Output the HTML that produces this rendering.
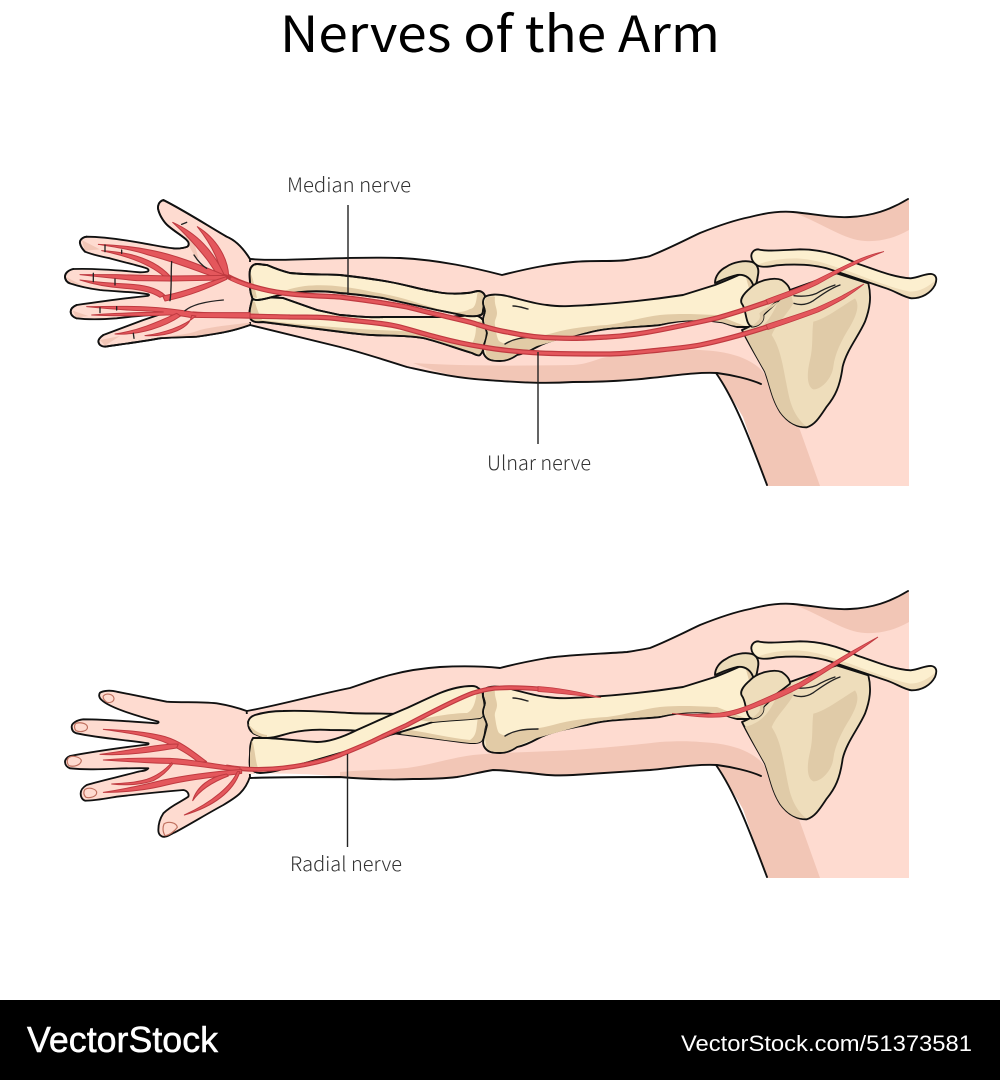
<!DOCTYPE html>
<html><head><meta charset="utf-8"><title>Nerves of the Arm</title>
<style>
html,body{margin:0;padding:0;background:#fff}
svg{display:block}
.o{stroke:#111;stroke-width:5.5;stroke-linejoin:round;stroke-linecap:round}
.p{stroke:#111;stroke-width:1.9;stroke-linejoin:round;stroke-linecap:round}
.l{fill:none;stroke:#222;stroke-width:1.4;stroke-linecap:round}
.n{fill:#e4575c;stroke:#bf3a40;stroke-width:3;stroke-linejoin:round}
.lab{font-family:"Noto Sans CJK JP","Liberation Sans",sans-serif;font-weight:300;font-size:20px;fill:#333}
</style></head><body>
<svg xmlns="http://www.w3.org/2000/svg" xmlns:xlink="http://www.w3.org/1999/xlink" width="1000" height="1080" viewBox="0 0 1000 1080">
<defs>
<g id="hum">
<path fill="#fcefcf" class="p" d="M485 297C489 294 498 294 507 296C520 299 535 304 547 305C560 307 573 306 590 305C620 303 650 300 683 295L715 285C725 281 735 277 745 272L757 283L763 315L753 327L737 327C728 325 724 322 720 322C700 319 680 320 660 325C630 328 607 327 587 333C565 337 550 340 537 347C528 352 522 354 517 355C510 360 505 361 500 361C492 361 488 360 485 356C482 352 483 348 484 345C486 340 487 337 487 333C486 328 483 325 483 320C483 316 485 314 485 311C485 308 483 306 483 303C483 300 484 298 485 297Z"/>
<path fill="#e2cba6" d="M486 298C490 296 494 296 495 297C494 304 497 308 497 313C497 318 494 320 495 325C496 332 497 338 499 341C502 343 505 344 507 343C511 340 516 339 522 338C536 337 545 335 553 333C570 328 590 326 607 325C625 323 642 317 660 315C672 314 680 314 690 314L717 315L737 323L745 326L737 326C728 325 724 322 720 322C700 319 680 320 660 324C630 327 607 326 587 332L537 346L517 354C510 359 505 360 500 360C492 360 488 359 486 355L485 345L488 333L484 320L486 311L484 303Z"/>
<path class="l" d="M513 306C518 306 524 308 528 309M505 344C513 339 522 337 538 337"/>
<path fill="#e2cba6" d="M745 274L754 284L758 300L750 292Z"/>
<path fill="#ecdcb9" class="p" d="M715 283C715 276 720 270 726 267C733 262 745 260 752 262C758 264 759 270 758 275C757 280 757 284 754 288C752 278 745 274 737 275C728 277 722 280 715 283Z"/>
</g>
<g id="sh" transform="translate(650 190) scale(.33333)">
<path fill="#eeddbb" class="o" d="M276 420C290 450 320 500 345 545C360 585 365 625 390 665C415 700 445 713 470 712C495 705 510 680 530 650C555 620 570 590 578 530C590 480 625 440 645 395C660 355 665 320 655 280L560 250L420 300L340 375C320 400 300 410 276 420Z"/>
<path fill="#e0cba8" d="M285 435C320 425 350 410 380 345L420 300L430 340C410 375 380 400 365 435C395 480 400 540 415 610C425 660 445 690 468 708C445 712 415 700 390 665C365 625 360 585 345 545C320 500 300 465 285 435ZM490 395C530 385 580 345 615 325C630 345 620 375 600 410C575 450 555 490 550 530C545 570 510 600 490 598C470 590 470 550 480 510C490 470 485 430 490 395Z"/>
<path fill="#eeddbb" class="o" d="M276 342C268 330 280 312 300 295C320 272 370 260 395 270C410 280 420 292 420 305C390 330 360 345 340 375C343 395 325 410 305 410C285 402 290 360 276 342Z"/>
<path fill="#e0cba8" d="M340 375C345 395 325 410 305 410C320 395 335 390 328 370C340 360 360 345 385 335C375 350 350 360 340 375Z"/>
<path fill="none" stroke="#222" stroke-width="4" stroke-linecap="round" d="M432 317C455 320 480 318 500 310C520 298 540 290 555 285M432 340C450 346 470 345 490 332C510 318 540 295 570 285"/>
<path fill="#fcefcf" d="M304 200C303 188 312 178 325 178C350 185 400 180 450 178C510 178 570 195 620 220C680 240 730 262 782 265C810 262 825 250 845 252C860 255 862 268 855 285C842 310 815 325 785 325C760 322 735 302 700 292C650 275 600 258 540 238C490 222 430 222 380 226C350 232 330 232 320 225C310 218 305 210 304 200Z"/>
<path fill="#efdcb9" d="M322 225C350 212 390 205 440 205C500 208 540 225 600 245C660 268 720 292 780 305C810 305 835 290 855 272L858 275C842 310 815 325 785 323C760 322 735 302 700 292C650 275 600 258 540 238C490 222 430 222 380 226C350 232 335 232 322 225Z"/>
<path fill="none" class="o" d="M304 200C303 188 312 178 325 178C350 185 400 180 450 178C510 178 570 195 620 220C680 240 730 262 782 265C810 262 825 250 845 252C860 255 862 268 855 285C842 310 815 325 785 325C760 322 735 302 700 292C650 275 600 258 540 238C490 222 430 222 380 226C350 232 330 232 320 225C310 218 305 210 304 200Z"/>
</g>
</defs>
<rect width="1000" height="1080" fill="#fff"/>

<text x="500" y="52" text-anchor="middle" textLength="440" lengthAdjust="spacingAndGlyphs" font-family="'Noto Sans CJK JP','Liberation Sans',sans-serif" font-size="50" fill="#000">Nerves of the Arm</text>

<!-- TOP ARM -->
<g>
<path fill="#fedbd0" d="M240 262L250 259C290 262 340 256 400 258C440 260 475 268 502 275C530 268 550 264 573 262C595 260 612 262 627 260C640 258 648 257 650 256C670 248 685 240 700 233C720 225 735 220 750 217C765 213 780 211 793 212C815 214 832 218 850 217C872 216 890 210 909 199V486H767L743 417L717 373C695 372 672 376 650 378C625 381 600 382 573 382C540 384 515 382 487 380C455 378 430 372 407 367C385 360 360 352 340 347L250 325L240 328Z"/>
<path fill="#f2c6b6" d="M793 212C815 214 832 218 850 217C872 216 890 210 909 199V230C895 238 880 242 865 241C845 240 825 225 793 212ZM413 363C460 366 520 366 573 365C590 364 598 358 607 357C625 355 642 353 660 352C675 350 690 349 700 350C720 351 735 354 747 360C755 364 760 368 763 372C775 390 790 410 800 430L820 486H767L743 417L717 373C695 372 672 376 650 378C625 381 600 382 573 382C540 384 515 382 487 380C460 378 435 372 413 363Z"/>
<path fill="none" class="p" d="M250 259C290 262 340 256 400 258C440 260 475 268 502 275C530 268 550 264 573 262C595 260 612 262 627 260C640 258 648 257 650 256C670 248 685 240 700 233C720 225 735 220 750 217C765 213 780 211 793 212C815 214 832 218 850 217C872 216 890 210 908 199"/>
<path fill="none" class="p" d="M250 325L340 347C360 352 385 360 407 367C430 372 455 378 487 380C515 382 540 384 573 382C600 382 625 381 650 378C672 376 695 372 717 373C732 375 750 379 761 384"/>
<path fill="none" class="p" d="M716 373C735 400 750 440 767 485"/>
<!-- hand top -->
<g transform="translate(50 190) scale(.33333)">
<path fill="#fedbd0" class="o" d="M600 207C580 175 555 150 530 140C470 105 400 60 340 30C325 35 322 50 325 60C330 80 345 100 355 108C375 125 400 140 410 150C418 158 418 165 412 170C400 175 385 176 370 175C340 172 310 165 280 160C225 150 160 140 110 140C95 142 88 152 90 160C92 172 100 180 105 185C130 195 155 200 180 205C215 215 260 225 290 235C297 238 297 243 292 245C285 247 280 247 270 247C200 240 130 235 70 237C55 240 45 250 45 260C45 270 52 278 60 280C90 290 120 296 150 300C200 305 250 305 295 313C300 315 295 318 290 318C220 325 150 335 80 345C68 350 62 358 62 365C62 375 70 382 80 385C120 390 160 388 200 385C245 380 285 375 325 375C310 380 295 385 280 390C240 405 200 420 160 435C150 442 145 450 145 455C147 465 155 470 165 470C220 462 275 455 330 445C365 442 405 442 440 440C470 436 500 432 530 425C555 420 580 412 600 405Z"/>
<path fill="#f2c6b6" d="M300 452C340 435 400 440 450 420C490 410 540 405 600 398L598 405C580 412 555 420 530 425C500 432 470 436 440 440C405 442 365 442 330 445ZM415 160C420 175 430 195 445 205C440 185 435 160 420 130C410 130 405 140 410 150ZM95 150L150 178L105 182ZM50 262L95 285L60 278ZM68 362L115 378L78 383ZM150 450L210 438L165 467Z"/>
<path fill="none" class="o" d="M600 207C580 175 555 150 530 140C470 105 400 60 340 30C325 35 322 50 325 60C330 80 345 100 355 108C375 125 400 140 410 150C418 158 418 165 412 170C400 175 385 176 370 175M160 435C150 442 145 450 145 455C147 465 155 470 165 470C220 462 275 455 330 445C365 442 405 442 440 440C470 436 500 432 530 425C555 420 580 412 600 405M110 140C95 142 88 152 90 160C92 172 100 180 105 185M70 237C55 240 45 250 45 260C45 270 52 278 60 280M80 345C68 350 62 358 62 365C62 375 70 382 80 385"/>
</g>
<rect x="245" y="262" width="12" height="60" fill="#fedbd0"/>
</g>
<!-- forearm bones top -->
<path fill="#fcefcf" class="p" d="M252 300C250 308 249 312 250 315C250 319 251 320 253 321C256 323 260 322 263 322L350 333C360 334 367 335 373 335C390 336 405 335 423 338C440 342 455 348 472 353C476 355 479 356 480 355C483 352 484 348 483 347C486 340 487 336 487 330C485 326 484 323 483 320C481 317 477 315 473 315C460 316 450 317 440 317H383C370 318 355 316 340 315L317 310L283 298L263 297Z"/>
<path fill="#e2cba6" d="M252 301C250 308 249 315 253 321C257 323 300 327 350 333C375 336 405 335 423 338C440 342 458 350 478 355C483 352 486 340 487 330L484 322C478 320 476 322 476 326C476 335 474 342 470 346C450 338 425 332 400 331C370 330 310 326 262 320C258 312 256 306 255 302Z"/>
<path fill="none" class="p" d="M252 300C250 308 249 312 250 315C250 319 251 320 253 321C256 323 260 322 263 322L350 333C360 334 367 335 373 335C390 336 405 335 423 338C440 342 455 348 472 353C476 355 479 356 480 355C483 352 484 348 483 347C486 340 487 336 487 330C485 326 484 323 483 320C481 317 477 315 473 315C460 316 450 317 440 317H383C370 318 355 316 340 315L317 310L283 298"/>
<path fill="#fcefcf" class="p" d="M250 270C251 266 254 264 257 264C260 264 264 265 267 265C274 268 282 271 290 273C310 275 325 274 340 275C358 277 374 279 390 282C407 285 422 290 437 292C447 294 457 294 467 293C472 293 475 291 478 291C482 291 485 294 485 297C484 301 484 306 483 310C483 313 482 315 480 315C476 317 471 316 467 316L437 310C420 306 400 302 383 298C368 296 355 294 340 293C320 290 300 291 280 295C272 297 266 299 258 300C254 300 252 299 252 297C250 292 250 288 250 283C250 278 249 274 250 270Z"/>
<path fill="#e2cba6" d="M250 272C254 280 255 290 257 298L252 297L250 283ZM272 297C280 292 290 288 305 286C325 284 345 286 373 292C400 296 420 304 445 311C457 313 465 312 470 309C477 308 476 298 478 291C482 291 485 294 485 297C484 301 484 306 483 310L480 315C476 317 471 316 467 316L437 310C420 306 400 302 383 298C368 296 355 294 340 293C320 290 300 291 280 295Z"/>
<path fill="none" class="p" d="M250 270C251 266 254 264 257 264C260 264 264 265 267 265C274 268 282 271 290 273C310 275 325 274 340 275C358 277 374 279 390 282C407 285 422 290 437 292C447 294 457 294 467 293C472 293 475 291 478 291C482 291 485 294 485 297C484 301 484 306 483 310C483 313 482 315 480 315C476 317 471 316 467 316L437 310C420 306 400 302 383 298C368 296 355 294 340 293C320 290 300 291 280 295C272 297 266 299 258 300C254 300 252 299 252 297C250 292 250 288 250 283C250 278 249 274 250 270Z"/>
<use xlink:href="#hum" href="#hum"/>
<use xlink:href="#sh" href="#sh"/>
<!-- top nerves -->
<g fill="none" stroke-linecap="round" stroke-linejoin="round">
<path stroke="#bf3a40" stroke-width="5.2" d="M227 276C240 283 260 290 283 293C305 296 325 296 340 297C365 300 385 303 407 307C420 310 430 313 440 315C452 318 462 320 473 323C485 327 495 330 507 332C525 336 540 338 557 338C575 339 590 338 607 337C625 336 640 334 660 330C680 326 700 322 717 318C735 313 750 308 767 302"/>
<path stroke="#e4575c" stroke-width="2.8" d="M232 279C240 283 260 290 283 293C305 296 325 296 340 297C365 300 385 303 407 307C420 310 430 313 440 315C452 318 462 320 473 323C485 327 495 330 507 332C525 336 540 338 557 338C575 339 590 338 607 337C625 336 640 334 660 330C680 326 700 322 717 318C735 313 750 308 767 302"/>
<path stroke="#bf3a40" stroke-width="5.2" d="M193 314C220 316 250 316 290 317C310 317 325 317 340 319C365 322 385 323 400 327C415 331 428 335 440 338C455 342 470 345 483 347C500 350 520 352 540 353C560 354 585 354 607 354C625 354 640 352 660 350C680 348 690 347 700 345C725 340 745 334 767 327"/>
<path stroke="#e4575c" stroke-width="2.8" d="M193 314C220 316 250 316 290 317C310 317 325 317 340 319C365 322 385 323 400 327C415 331 428 335 440 338C455 342 470 345 483 347C500 350 520 352 540 353C560 354 585 354 607 354C625 354 640 352 660 350C680 348 690 347 700 345C725 340 745 334 767 327"/>
</g>
<path fill="#e4575c" stroke="#bf3a40" stroke-width=".8" d="M766 299.7C783 293 800 288 816 280C828 274 838 269 849 263.8C860 258.5 872 254 884 251.5C872 256 862 261 851 266.2C840 271 829 278 818 284C802 292 785 298 768 304.3Z"/>
<path fill="#e4575c" stroke="#bf3a40" stroke-width=".8" d="M766 324.7C783 319 800 314 816 308C825 304 834 300 842 295.8C849 292 856 288 864 284C858 289 851 294 844 298.5C836 303 827 308 818 312C802 318 785 324 768 329.5Z"/>
<!-- top hand nerves -->
<g transform="translate(50 190) scale(.33333)">
<path class="n" d="M536 258C534 205 500 145 442 110C470 145 502 195 514 250Z"/>
<path class="n" d="M526 262C490 180 440 130 368 97C410 135 445 175 472 210C485 228 495 245 505 258Z"/>
<path class="n" d="M530 258C450 225 380 195 300 180C250 170 200 165 145 163C200 172 250 180 295 195C370 215 450 245 510 268Z"/>
<path class="n" d="M360 258C330 225 290 205 240 193C210 187 185 184 155 182C190 190 215 196 235 203C280 218 315 235 345 262Z"/>
<path class="n" d="M530 256L360 258L200 254L90 254C160 262 200 266 260 272L360 273L520 270Z"/>
<path class="n" d="M345 316C320 292 280 285 230 282C180 280 130 275 90 270C130 283 180 292 225 295C270 298 305 305 330 322Z"/>
<path class="n" d="M530 260C470 278 410 305 338 318L345 333C420 318 480 292 530 268Z"/>
<path class="n" d="M600 368L440 368C400 362 340 352 270 350C210 348 160 350 110 350C170 356 220 360 270 362C300 363 320 365 340 366C280 368 200 368 125 375C200 378 290 378 350 375C375 374 400 378 420 382L600 384Z"/>
<path class="n" d="M380 370C320 398 260 423 195 432C270 436 345 410 392 378Z"/>
<path class="n" d="M438 378C400 410 340 430 285 437C360 440 420 415 425 376Z"/>
<path fill="none" stroke="#222" stroke-width="4" stroke-linecap="round" d="M365 215C362 250 366 290 360 332M130 250V275M195 267V285M165 165V185M215 180V190M150 353V368M200 350V360M250 430L252 445M395 103L410 97M432 195C445 215 458 228 470 235M405 362C425 345 460 335 520 330"/>
</g>
<path stroke="#222" stroke-width="1.4" fill="none" d="M348 205V295M538 352V444"/>
<text class="lab" x="349" y="192" text-anchor="middle" textLength="124" lengthAdjust="spacingAndGlyphs">Median nerve</text>
<text class="lab" x="539" y="470" text-anchor="middle" textLength="104" lengthAdjust="spacingAndGlyphs">Ulnar nerve</text>

<!-- BOTTOM ARM -->
<path fill="#fedbd0" d="M240 712L247 711C280 705 315 695 350 688C365 683 378 678 390 675C405 671 425 668 440 667C460 666 480 666 500 668C515 664 530 661 547 658C575 654 600 654 627 652C640 650 650 648 650 648C670 640 685 632 700 625C720 617 735 612 750 609C765 605 780 603 793 604C815 606 832 610 850 609C872 608 890 602 909 591V878H767L743 809L717 765C695 764 672 768 650 770L573 775C555 776 545 775 530 773C515 772 505 770 493 770C480 772 470 775 457 777C440 779 425 779 413 779C390 780 365 779 340 777C300 772 270 775 250 772L240 770Z"/>
<path fill="#f2c6b6" d="M793 604C815 606 832 610 850 609C872 608 890 602 909 591V622C895 630 880 634 865 633C845 632 825 617 793 604ZM340 772C360 770 385 770 407 768C430 765 450 758 473 755C505 752 540 752 573 750C600 748 635 745 660 742C675 741 690 741 700 742C720 743 735 746 747 752C755 756 760 760 763 764C775 782 790 802 800 822L820 878H767L743 809L717 765C695 764 672 768 650 770L573 775C555 776 545 775 530 773C515 772 505 770 493 770C480 772 470 775 457 777C440 779 425 779 413 779C390 780 365 779 340 777Z"/>
<path fill="none" class="p" d="M247 711C280 705 315 695 350 688C365 683 378 678 390 675C405 671 425 668 440 667C460 666 480 666 500 668C515 664 530 661 547 658C575 654 600 654 627 652C640 650 650 648 650 648C670 640 685 632 700 625C720 617 735 612 750 609C765 605 780 603 793 604C815 606 832 610 850 609C872 608 890 602 908 591"/>
<path fill="none" class="p" d="M250 778C280 777 310 777 340 777C365 779 390 780 413 779C425 779 440 779 457 777C470 775 480 772 493 770C505 770 515 772 530 773C545 775 555 776 573 775L650 770C672 768 695 764 717 765C732 767 750 771 761 776"/>
<path fill="none" class="p" d="M716 765C735 792 750 832 767 877"/>
<!-- hand bottom -->
<g transform="translate(50 670) scale(.33333)">
<path fill="#fedbd0" class="o" d="M590 123C560 112 530 105 500 100C450 95 400 98 350 95C300 85 250 75 200 65C180 60 160 62 150 68C145 75 148 85 155 90C175 110 250 135 325 155C328 158 322 160 320 160C250 155 170 148 100 148C80 150 65 160 65 170C65 182 72 188 80 190C150 205 230 210 295 220C298 223 290 225 280 225C200 235 130 245 60 258C50 262 45 270 45 275C45 285 52 292 60 295C130 303 220 292 295 295C290 302 280 302 265 305C210 320 160 330 110 345C98 352 92 362 92 370C92 382 98 390 105 392C135 392 170 385 200 380C270 372 340 365 400 360C412 362 418 372 415 380C395 395 365 405 340 430C330 445 325 465 325 480C325 495 335 502 345 500C355 500 365 490 375 487C425 460 470 432 520 405C545 390 560 380 570 370C585 355 595 335 600 320Z"/>
<path fill="none" stroke="#bf705f" stroke-width="3.5" d="M160 78C170 68 190 72 192 85C192 98 175 100 168 95C162 90 158 85 160 78ZM78 160C95 155 115 162 112 175C108 185 90 187 78 182C72 175 72 165 78 160ZM57 262C70 255 92 262 94 272C92 285 72 292 57 287C50 280 50 268 57 262ZM105 358C120 350 140 358 140 368C140 380 120 385 108 382C100 375 100 365 105 358ZM342 462C355 452 380 458 382 472C375 482 360 495 345 497C338 485 338 472 342 462Z"/>
</g>
<rect x="245" y="714" width="10" height="60" fill="#fedbd0"/>
<!-- ulna bottom -->
<path fill="#fcefcf" class="p" d="M248 722C249 718 252 716 255 715C265 712 275 711 283 711C305 710 330 712 350 713C365 714 382 713 397 714H440L480 715C483 715 485 716 485 718C486 722 486 724 485 727C484 731 484 736 482 740C481 742 478 743 475 743H470C450 741 425 737 400 734C385 732 372 731 360 731C350 730 340 730 330 730C315 729 303 730 290 733C282 735 275 738 267 738C262 737 258 736 253 733C250 731 248 727 248 722Z"/>
<path fill="#e2cba6" d="M248 724C252 728 258 734 267 735L267 738C262 737 258 736 253 733ZM478 718C476 725 478 735 470 740C450 738 430 733 410 730L400 734C425 737 450 741 470 743H475C478 743 481 742 482 740C484 736 484 731 485 727C486 724 486 722 485 718Z"/>
<!-- radius bottom -->
<path fill="#fcefcf" class="p" d="M253 738C250 743 250 748 250 753C250 758 249 762 250 767C252 771 256 773 260 773C270 773 280 770 290 767C310 762 330 756 350 750C365 745 378 740 390 735C405 731 420 726 433 722C450 720 465 720 480 718C482 717 483 716 483 715C484 708 484 703 482 697C482 692 481 689 478 688C476 686 474 686 472 686C460 686 450 689 440 693C428 698 418 703 407 708C390 715 373 723 357 730C345 736 330 742 317 742C300 741 285 739 267 738C262 738 257 738 253 738Z"/>
<path fill="#e2cba6" d="M252 740C255 748 255 760 258 768L250 767L250 753ZM417 720C435 716 455 713 467 713C474 710 476 700 477 690C481 689 482 692 482 697C484 703 484 708 483 715C483 716 482 717 480 718C465 720 450 720 433 722Z"/>
<use xlink:href="#hum" href="#hum" transform="translate(0 392)"/>
<g fill="none" stroke-linecap="round" stroke-linejoin="round">
<path stroke="#bf3a40" stroke-width="4.8" d="M227 767C245 770 265 770 283 768C300 766 322 762 340 755C352 750 362 746 373 741C385 735 396 730 407 725C418 719 428 714 440 708C450 703 462 697 473 693C483 690 492 688 500 688C515 687 528 688 540 689"/>
<path stroke="#e4575c" stroke-width="2.5" d="M232 767C245 770 265 770 283 768C300 766 322 762 340 755C352 750 362 746 373 741C385 735 396 730 407 725C418 719 428 714 440 708C450 703 462 697 473 693C483 690 492 688 500 688C515 687 528 688 540 689"/>
</g>
<path fill="#e4575c" stroke="#bf3a40" stroke-width=".8" d="M538 686.5C560 688 580 692 601 697.5C580 696 560 693 538 691.5Z"/>
<use xlink:href="#sh" href="#sh" transform="translate(0 392)"/>
<path fill="#e4575c" stroke="#bf3a40" stroke-width=".8" d="M672 713.5C690 715 705 714.5 720 713C735 711 748 706 759 701C775 694 788 688 799 683C813 675 826 667 839 659C852 651 865 644 878 637C866 646 854 654 841 662C828 670 815 679 801 687C788 694 775 700 761 705C748 710 735 716 720 717C705 718 688 716 672 713.5Z"/>
<g transform="translate(50 670) scale(.33333)">
<path class="n" d="M470 275C430 245 395 215 345 200C290 185 220 180 160 178C220 186 290 197 340 215C380 232 420 255 445 277Z"/>
<path class="n" d="M385 222C320 222 240 242 150 253C230 258 310 245 380 234Z"/>
<path class="n" d="M570 292C500 285 430 268 360 265C290 263 220 265 160 270C230 274 300 280 355 280C430 284 500 298 570 304Z"/>
<path class="n" d="M365 278C345 300 320 318 290 328C255 338 220 340 185 342C235 348 280 342 310 332C335 320 355 300 368 282Z"/>
<path class="n" d="M575 298C490 305 410 315 340 330C280 345 220 358 160 367C230 368 300 358 350 345C420 328 490 322 575 310Z"/>
<path class="n" d="M530 312C480 320 440 350 428 392C450 360 490 335 535 318Z"/>
<path class="n" d="M562 305C545 345 490 395 403 435C490 410 550 365 570 305Z"/>
</g>
<path stroke="#222" stroke-width="1.4" fill="none" d="M347.5 754V847"/>
<text class="lab" x="346" y="871" text-anchor="middle" textLength="112" lengthAdjust="spacingAndGlyphs">Radial nerve</text>

<!-- footer -->
<rect x="0" y="1000" width="1000" height="80" fill="#000"/>
<text x="27" y="1052" textLength="191" lengthAdjust="spacingAndGlyphs" font-family="'Liberation Sans',sans-serif" font-size="36" font-weight="400" fill="#fff" stroke="#fff" stroke-width=".5">VectorStock</text>
<text x="681" y="1051" textLength="291" lengthAdjust="spacingAndGlyphs" font-family="'Liberation Sans',sans-serif" font-size="22.5" fill="#fff">VectorStock.com/51373581</text>
</svg>
</body></html>
